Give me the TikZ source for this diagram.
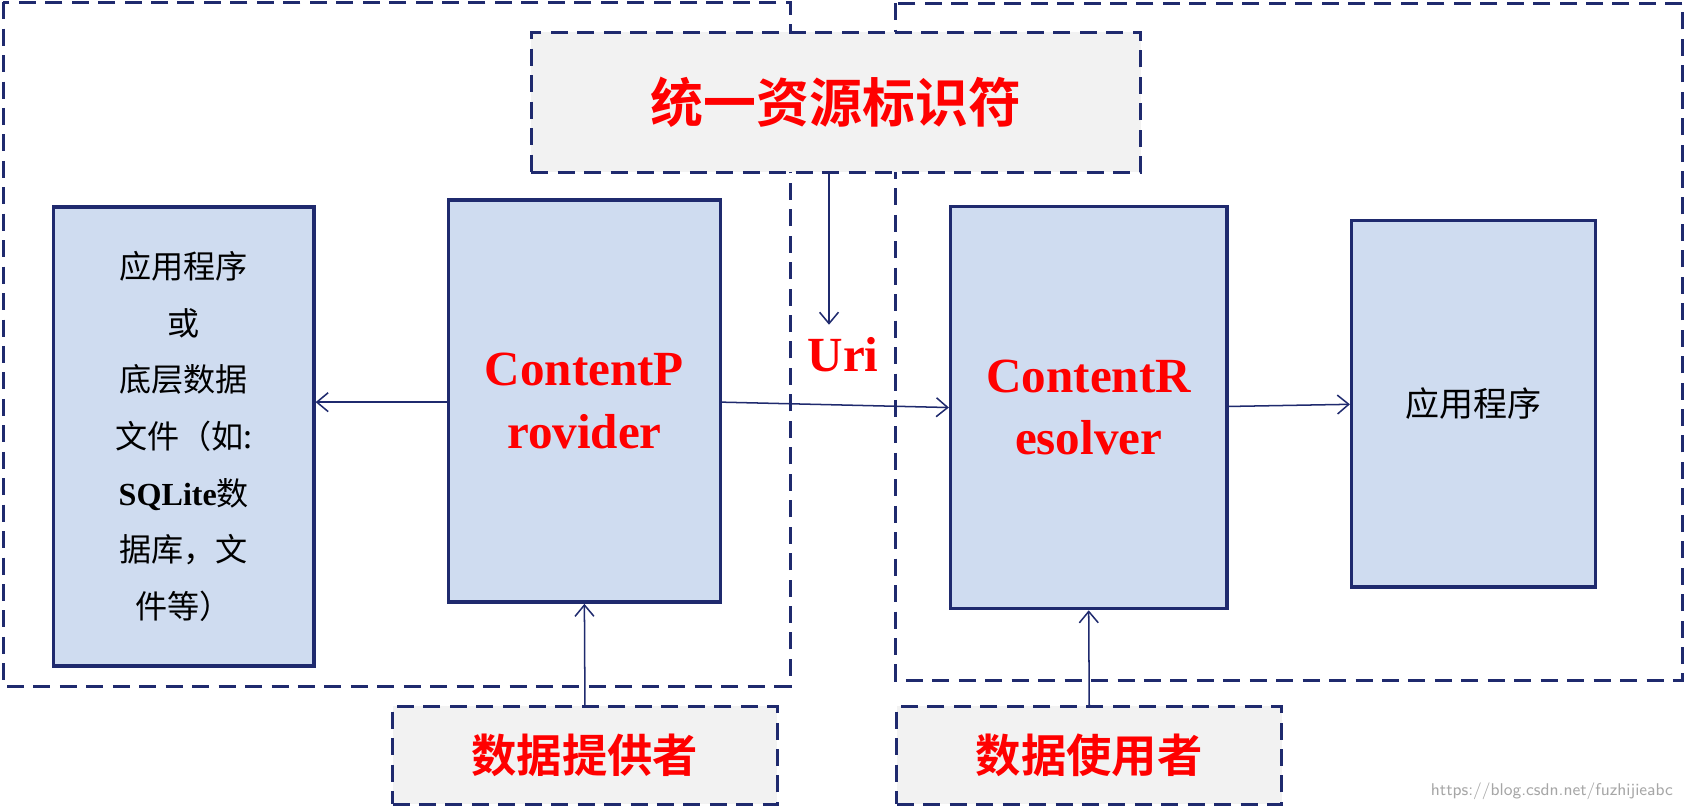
\documentclass[tikz,border=0pt]{standalone}
\usepackage{fontspec}
\setmainfont{Liberation Serif}
\newfontfamily\cjk{Noto Sans CJK SC}
\newfontfamily\cjkb{Noto Sans CJK SC Bold}
\usetikzlibrary{arrows.meta}
\definecolor{navy}{HTML}{1F2A6E}
\definecolor{boxblue}{HTML}{CFDCF0}
\definecolor{lgray}{HTML}{F2F2F2}
\definecolor{lred}{HTML}{FF0000}
\tikzset{
  region/.style={draw=navy,line width=1.6pt,dash pattern=on 9pt off 5pt},
  labelbox/.style={draw=navy,line width=1.6pt,dash pattern=on 9pt off 5pt,fill=lgray},
  blockbox/.style={draw=navy,line width=1.8pt,fill=boxblue},
  conn/.style={draw=navy,line width=0.8pt,-{Straight Barb[length=6pt,width=10pt]}},
  redtxt/.style={text=lred,font=\bfseries\fontsize{26}{33}\selectfont,align=center},
}
\begin{document}
\begin{tikzpicture}[x=0.02cm,y=-0.02cm]
\useasboundingbox (0,0) rectangle (1568,752);
\fill[white] (0,0) rectangle (1568,752);
\draw[region] (3,2) rectangle (735,638);
\draw[region] (833,3) rectangle (1565,633);
\node[labelbox,minimum width=11.34cm,minimum height=2.6cm] (uri) at (777.5,95)
  {\cjkb\color{lred}\fontsize{28}{34}\selectfont 统一资源标识符};
\node[blockbox,minimum width=4.84cm,minimum height=8.54cm] (data) at (171,406) {};
\node[align=center,font=\cjk\fontsize{17}{30}\selectfont] at (data.center)
  {应用程序\\或\\底层数据\\文件（如:\\{\rmfamily\bfseries SQLite}数\\据库，文\\件等）};
\node[blockbox,minimum width=5.06cm,minimum height=7.48cm] (cp) at (543.5,373) {};
\node[redtxt] at (cp.center) {ContentP\\rovider};
\node[blockbox,minimum width=5.14cm,minimum height=7.48cm] (cr) at (1012.5,379) {};
\node[redtxt] at (cr.center) {ContentR\\esolver};
\node[blockbox,minimum width=4.54cm,minimum height=6.82cm] (app) at (1370.5,375.5) {};
\node[font=\cjk\fontsize{18}{22}\selectfont] at (app.center) {应用程序};
\node[labelbox,minimum width=7.16cm,minimum height=1.82cm] (prov) at (544,702.5)
  {\cjkb\color{lred}\fontsize{24}{30}\selectfont 数据提供者};
\node[labelbox,minimum width=7.16cm,minimum height=1.82cm] (user) at (1013,702.5)
  {\cjkb\color{lred}\fontsize{24}{30}\selectfont 数据使用者};
\node[redtxt] (urilbl) at (784,330) {Uri};
\coordinate (ua) at (771,162);
\coordinate (ub) at (771,302);
\draw[conn] (ua) -- (ub);
\draw[conn] (cp.west |- 0,374) -- (data.east |- 0,374);
\draw[conn] (cp.east |- 0,374) -- (cr.west |- 0,379);
\draw[conn] (cr.east |- 0,378) -- (app.west |- 0,376);
\draw[conn] (prov.north) -- (cp.south);
\draw[conn] (user.north) -- (cr.south);
\node[text=gray!70,font=\sffamily\fontsize{9}{10}\selectfont,anchor=east] (wm) at (1562,736) {https://blog.csdn.net/fuzhijieabc};
\end{tikzpicture}
\end{document}
